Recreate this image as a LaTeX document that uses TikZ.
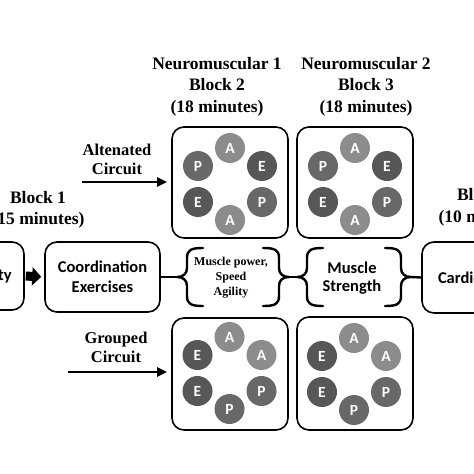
\documentclass[tikz,border=0pt]{standalone}
\usepackage{fontspec}
\setmainfont{Liberation Serif}
\newfontfamily\carlito{Carlito}
\usetikzlibrary{arrows.meta,calc}
\definecolor{gA}{HTML}{8C8C8C}
\definecolor{gP}{HTML}{686868}
\definecolor{gE}{HTML}{575757}
\newcommand\hexring[8]{%
  \node[dot#3] (#1t)  at ($(#2)+(0,-36)$) {#3};
  \node[dot#4] (#1ul) at ($(#2)+(-32,-18)$) {#4};
  \node[dot#5] (#1ur) at ($(#2)+(32,-18)$) {#5};
  \node[dot#6] (#1ll) at ($(#2)+(-32,18)$) {#6};
  \node[dot#7] (#1lr) at ($(#2)+(32,18)$) {#7};
  \node[dot#8] (#1b)  at ($(#2)+(0,36)$) {#8};
}
\begin{document}
\begin{tikzpicture}[x=1pt,y=-1pt,
  rbox/.style={draw, line width=1.6pt, rounded corners=12pt, inner sep=0pt},
  hdr/.style={font=\fontsize{17.5}{21.5}\selectfont\bfseries, align=center},
  lbl/.style={font=\fontsize{16.5}{19}\selectfont\bfseries, align=center},
  sans/.style={font=\carlito\fontsize{16.5}{20}\selectfont\bfseries, align=center},
  dot/.style={circle, minimum size=30pt, inner sep=0pt, text=white, font=\carlito\fontsize{15.5}{15.5}\selectfont\bfseries},
  dotA/.style={dot, fill=gA},
  dotP/.style={dot, fill=gP},
  dotE/.style={dot, fill=gE},
  conn/.style={line width=2.4pt},
  circarrow/.style={line width=2.4pt, -{Triangle[length=10pt,width=9pt]}, shorten >=4pt},
  lbr/.pic={\draw[line width=2.4pt, line cap=round, line join=round]
     (26,-29) .. controls (14,-29) and (10,-27) .. (10,-19) -- (10,-9)
     .. controls (10,-3) and (6,0) .. (0,0)
     .. controls (6,0) and (10,3) .. (10,9) -- (10,19)
     .. controls (10,27) and (14,29) .. (26,29);}
]
\useasboundingbox (0,0) rectangle (474,474);
\clip (0,0) rectangle (474,474);
\fill[white] (0,0) rectangle (474,474);

% headers
\node[hdr] (h1) at (38,210) {Block 1\\(15 minutes)};
\node[hdr] (h2) at (217,86.5) {Neuromuscular 1\\Block 2\\(18 minutes)};
\node[hdr] (h3) at (366,86.5) {Neuromuscular 2\\Block 3\\(18 minutes)};
\node[hdr] (h4) at (485,207.5) {Block 4\\(10 minutes)};

% main row
\node[rbox, sans, minimum width=68pt, minimum height=68pt] (ag) at (-10,276) {Agility};
\node[rbox, sans, minimum width=115pt, minimum height=70pt] (co) at (102.5,277) {Coordination\\Exercises};
\node[rbox, sans, minimum width=76pt, minimum height=71pt, text width=44pt, align=left] (ca) at (460,277.5) {Cardio};

\draw[line width=9pt, -{Triangle[length=9pt,width=18pt]}, shorten >=3pt, shorten <=1pt] (ag.east) -- (co.west);

% braces
\coordinate (b1l) at (177,277);
\coordinate (b1r) at (289,277);
\coordinate (b2l) at (297,277);
\coordinate (b2r) at (411,277);
\pic at (b1l) {lbr};
\pic[xscale=-1] at (b1r) {lbr};
\pic at (b2l) {lbr};
\pic[xscale=-1] at (b2r) {lbr};
\node[font=\fontsize{12}{15}\selectfont\bfseries, align=center] (mp) at (231,278) {Muscle power,\\Speed\\Agility};
\node[sans, font=\carlito\fontsize{16.5}{18}\selectfont\bfseries] (ms) at (352,278.5) {Muscle\\Strength};
\draw[conn] (co.east) -- (b1l);
\draw[conn] (b1r) -- (b2l);
\draw[conn] (b2r) -- (ca.west);

% circuit boxes
\node[rbox, minimum width=116pt, minimum height=111pt] (bx1) at (230,182.5) {};
\node[rbox, minimum width=116pt, minimum height=111pt] (bx2) at (355,182.5) {};
\node[rbox, minimum width=116pt, minimum height=112pt] (bx3) at (230,374) {};
\node[rbox, minimum width=116pt, minimum height=113pt] (bx4) at (355,373.5) {};
\coordinate (c1) at (230,184);
\coordinate (c2) at (355,184);
\coordinate (c3) at (229.5,373);
\coordinate (c4) at (354,374);
\hexring{a}{c1}{A}{P}{E}{E}{P}{A}
\hexring{b}{c2}{A}{P}{E}{E}{P}{A}
\hexring{c}{c3}{A}{E}{A}{E}{P}{P}
\hexring{d}{c4}{A}{E}{A}{E}{P}{P}

% circuit arrows
\node[lbl] (alt) at (117,159.5) {Altenated\\Circuit};
\node[lbl] (grp) at (116,347.5) {Grouped\\Circuit};
\coordinate (altS) at (82,182);
\coordinate (grpS) at (68,372);
\draw[circarrow] (altS) -- (altS -| bx1.west);
\draw[circarrow] (grpS) -- (grpS -| bx3.west);
\end{tikzpicture}
\end{document}
